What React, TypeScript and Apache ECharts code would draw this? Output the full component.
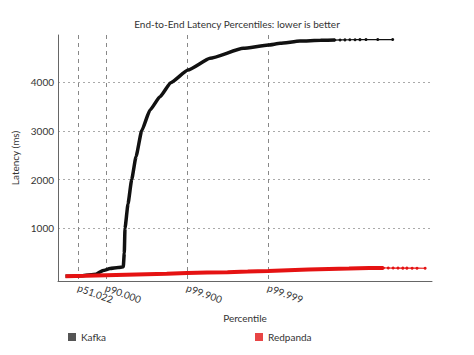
import React, { useEffect, useRef } from "react";
import * as echarts from "echarts";

// x positions are in "nines" space: -log10(1 - percentile/100)
const tickPercentiles = [51.022, 90.0, 99.9, 99.999];
const tickLabels = ["p51.022", "p90.000", "p99.900", "p99.999"];

const kafkaX = [0, 0.4, 0.75, 0.93, 1.1, 1.3, 1.427, 1.452, 1.469, 1.543, 1.635, 1.741, 1.881, 2.086, 2.333, 2.598, 3.025, 3.57, 4.39, 5.01, 5.3, 5.79, 6.3, 6.65];
const kafkaY = [15, 30, 60, 135, 175, 195, 211, 493, 1000, 1500, 2006, 2470, 3004, 3429, 3702, 3990, 4250, 4491, 4696, 4764, 4799, 4846, 4860, 4866];
const kafkaTailX = [6.65, 6.78, 6.9, 7.02, 7.15, 7.27, 7.42, 7.71, 8.08];
const kafkaTailY = [4866, 4868, 4870, 4872, 4874, 4875, 4876, 4877, 4877];

const redX = [0, 0.5, 1, 1.5, 2, 2.5, 3, 3.5, 4, 4.5, 5, 5.5, 6, 6.5, 7, 7.5, 7.85];
const redY = [18, 28, 40, 50, 60, 70, 82, 92, 102, 113, 125, 140, 155, 165, 175, 186, 188];
const redTailX = [7.85, 7.97, 8.09, 8.21, 8.33, 8.43, 8.56, 8.68, 8.88];
const redTailY = [188, 187, 186, 185, 184, 184, 183, 183, 182];

const yLabels = [1000, 2000, 3000, 4000];

const FONT = "Lato";

export default function App() {
  const ref = useRef<HTMLDivElement>(null);
  useEffect(() => {
    if (!ref.current) return;
    const chart = echarts.init(ref.current, null, { renderer: "svg" });
    const tickPos = tickPercentiles.map((p) => -Math.log10(1 - p / 100));
    const zip = (xs: number[], ys: number[]) => xs.map((x, i) => [x, ys[i]]);
    const labelFor = (v: number) => {
      const i = tickPos.findIndex((t) => Math.abs(t - v) < 1e-6);
      return i >= 0 ? tickLabels[i] : "";
    };
    const xLabelStyle = {
      hideOverlap: false,
      interval: 0,
      rotate: -20,
      margin: 6,
      fontSize: 10,
      color: "#333",
      fontFamily: FONT,
      formatter: labelFor,
    };
    const xSplit = { show: true, lineStyle: { type: [4, 4], color: "#888", width: 1 } };
    chart.setOption({
      animation: false,
      textStyle: { fontFamily: FONT },
      title: {
        text: "End-to-End Latency Percentiles: lower is better",
        left: "center",
        top: 14,
        textStyle: { fontSize: 10, fontWeight: "normal", color: "#333", fontFamily: FONT },
      },
      legend: [
        {
          data: [{ name: "Kafka", itemStyle: { color: "#555" } }],
          left: 63,
          top: 327,
          itemWidth: 8,
          itemHeight: 8,
          icon: "rect",
          textStyle: { fontSize: 10, color: "#333", fontFamily: FONT },
        },
        {
          data: [{ name: "Redpanda", itemStyle: { color: "#e84545" } }],
          left: 250,
          top: 327,
          itemWidth: 8,
          itemHeight: 8,
          icon: "rect",
          textStyle: { fontSize: 10, color: "#333", fontFamily: FONT },
        },
      ],
      grid: { left: 58, right: 42, top: 35, bottom: 74 },
      xAxis: [
        {
          type: "value",
          min: -0.185,
          max: 9.05,
          position: "bottom",
          name: "Percentile",
          nameLocation: "middle",
          nameGap: 32,
          nameTextStyle: { fontSize: 10, color: "#333", fontFamily: FONT },
          axisLine: { onZero: false, lineStyle: { color: "#666", width: 1 } },
          axisTick: { show: false, customValues: tickPos.slice(1) },
          axisLabel: { ...xLabelStyle, customValues: tickPos.slice(1) },
          splitLine: xSplit,
        },
        {
          type: "value",
          min: -0.185,
          max: 9.05,
          position: "bottom",
          axisLine: { show: false, onZero: false },
          axisTick: { show: false, customValues: tickPos.slice(0, 1) },
          axisLabel: { ...xLabelStyle, customValues: tickPos.slice(0, 1) },
          splitLine: xSplit,
        },
      ],
      yAxis: {
        type: "value",
        min: -80,
        max: 4970,
        name: "Latency (ms)",
        nameLocation: "middle",
        nameGap: 38,
        nameTextStyle: { fontSize: 10, color: "#333", fontFamily: FONT },
        axisLine: { show: true, onZero: false, lineStyle: { color: "#666", width: 1 } },
        axisTick: { show: false, customValues: yLabels },
        axisLabel: {
          customValues: yLabels,
          margin: 4,
          fontSize: 10,
          color: "#333",
          fontFamily: FONT,
          formatter: (v: number) => String(v),
        },
        splitLine: { show: true, lineStyle: { type: [2, 3], color: "#aaa", width: 1 } },
      },
      series: [
        {
          name: "Kafka",
          type: "line",
          xAxisIndex: 0,
          data: zip(kafkaX, kafkaY),
          showSymbol: false,
          smooth: 0.15,
          smoothMonotone: "x",
          lineStyle: { color: "#111", width: 3.5 },
          itemStyle: { color: "#111" },
          z: 2,
        },
        {
          name: "Kafka",
          type: "line",
          xAxisIndex: 0,
          data: zip(kafkaTailX, kafkaTailY),
          symbol: "circle",
          symbolSize: 3,
          showSymbol: true,
          lineStyle: { color: "#111", width: 1.2 },
          itemStyle: { color: "#111" },
          z: 2,
        },
        {
          name: "Redpanda",
          type: "line",
          xAxisIndex: 0,
          data: zip(redX, redY),
          showSymbol: false,
          lineStyle: { color: "#e51212", width: 4 },
          itemStyle: { color: "#e51212" },
          z: 3,
        },
        {
          name: "Redpanda",
          type: "line",
          xAxisIndex: 0,
          data: zip(redTailX, redTailY),
          symbol: "circle",
          symbolSize: 3,
          showSymbol: true,
          lineStyle: { color: "#e51212", width: 1.2 },
          itemStyle: { color: "#e51212" },
          z: 3,
        },
      ],
    });
    return () => chart.dispose();
  }, []);
  return <div ref={ref} style={{ width: 474, height: 355, position: "absolute", left: 0, top: 0 }} />;
}
